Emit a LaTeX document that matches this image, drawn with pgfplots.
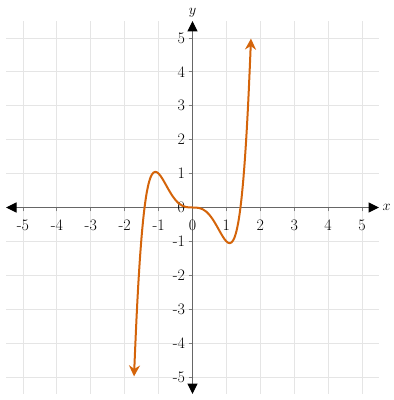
\documentclass[border=0pt]{standalone}
\usepackage{fontspec}
\usepackage{pgfplots}
\pgfplotsset{compat=1.18}
\usetikzlibrary{arrows.meta}
\definecolor{curveorange}{RGB}{212,100,10}
\begin{document}
\begin{tikzpicture}
\begin{axis}[
  scale only axis, width=373pt, height=373pt,
  xmin=-5.5, xmax=5.5, ymin=-5.5, ymax=5.5,
  enlargelimits=false,
  axis lines=middle,
  axis line style={black!60, line width=1pt,
    {Triangle[color=black,length=10.5pt,width=10pt]}-{Triangle[color=black,length=10.5pt,width=10pt]}},
  xtick={-5,-4,-3,-2,-1,0,1,2,3,4,5},
  ytick={-5,-4,-3,-2,-1,0,1,2,3,4,5},
  xticklabels={-5,-4,-3,-2,-1,0,1,2,3,4,5},
  yticklabels={-5,-4,-3,-2,-1,0,1,2,3,4,5},
  hide obscured x ticks=false, hide obscured y ticks=false,
  grid=major,
  major grid style={black!10, line width=0.8pt},
  tick align=outside,
  major tick length=4pt,
  tick style={black!50, line width=0.8pt},
  every tick label/.append style={font=\fontsize{16}{19}\selectfont},
  xticklabel style={yshift=-5pt},
  xlabel={$x$}, ylabel={$y$},
  every axis x label/.style={at={(current axis.right of origin)}, anchor=west, font=\fontsize{14}{16}\selectfont, xshift=0pt},
  every axis y label/.style={at={(current axis.above origin)}, anchor=south, font=\fontsize{14}{16}\selectfont},
  clip=false,
]
\coordinate (bl) at (axis cs:-5.5,-5.5);
\coordinate (tr) at (axis cs:5.5,5.5);
\addplot[curveorange, line width=2pt, smooth,
  {Stealth[length=11pt,width=11pt]}-{Stealth[length=11pt,width=11pt]}]
  coordinates {
  (-1.724,-4.981) (-1.7,-4.3726) (-1.65,-3.2456) (-1.6,-2.2938) (-1.55,-1.4989)
  (-1.5,-0.8438) (-1.45,-0.3125) (-1.4,0.1098) (-1.35,0.4367) (-1.3,0.6811)
  (-1.25,0.8545) (-1.2,0.9677) (-1.15,1.0304) (-1.1,1.0515) (-1.05,1.0390)
  (-1.0,1.0) (-0.95,0.9410) (-0.9,0.8675) (-0.85,0.7845) (-0.8,0.6963) (-0.7,0.5179)
  (-0.6,0.3542) (-0.5,0.2188) (-0.4,0.1178) (-0.3,0.0516) (-0.2,0.0157)
  (-0.1,0.0020) (0,0)
  (0.1,-0.0020) (0.2,-0.0157) (0.3,-0.0516) (0.4,-0.1178) (0.5,-0.2188)
  (0.6,-0.3542) (0.7,-0.5179) (0.8,-0.6963) (0.85,-0.7845) (0.9,-0.8675) (0.95,-0.9410)
  (1.0,-1.0) (1.05,-1.0390) (1.1,-1.0515) (1.15,-1.0304) (1.2,-0.9677)
  (1.25,-0.8545) (1.3,-0.6811) (1.35,-0.4367) (1.4,-0.1098) (1.45,0.3125)
  (1.5,0.8438) (1.55,1.4989) (1.6,2.2938) (1.65,3.2456) (1.7,4.3726)
  (1.724,4.981)
  };
\end{axis}
\pgfresetboundingbox
\path ([shift={(-6pt,-6pt)}]bl) rectangle ([shift={(14pt,21pt)}]tr);
\end{tikzpicture}
\end{document}
